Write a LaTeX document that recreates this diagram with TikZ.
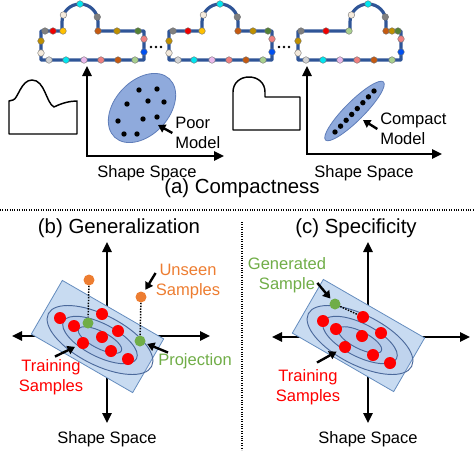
\documentclass[tikz,border=0pt]{standalone}
\usepackage{fontspec}
\setmainfont{Liberation Sans}
\usetikzlibrary{arrows.meta}
\definecolor{outlineblue}{RGB}{47,85,151}
\definecolor{modelblue}{RGB}{143,170,220}
\definecolor{modeledge}{RGB}{95,125,185}
\definecolor{planefill}{RGB}{200,219,241}
\definecolor{planeedge}{RGB}{100,140,190}
\definecolor{ringblue}{RGB}{75,105,155}
\definecolor{trainred}{RGB}{255,0,0}
\definecolor{projgreen}{RGB}{112,173,71}
\definecolor{unseenorange}{RGB}{237,125,49}
\definecolor{ptgray}{RGB}{128,128,128}
\definecolor{ptred}{RGB}{240,0,0}
\definecolor{ptgold}{RGB}{255,192,0}
\definecolor{ptbeige}{RGB}{244,234,220}
\definecolor{ptcyan}{RGB}{0,230,240}
\definecolor{ptbrown}{RGB}{197,90,17}
\definecolor{ptdarkgold}{RGB}{191,144,0}
\definecolor{ptdarkgreen}{RGB}{84,130,53}
\definecolor{ptsalmon}{RGB}{240,128,128}
\definecolor{ptblue}{RGB}{0,80,240}
\definecolor{ptlightgreen}{RGB}{169,208,142}
\definecolor{ptpink}{RGB}{235,185,235}
\definecolor{ptlightgray}{RGB}{212,212,212}
\tikzset{
  shapeline/.style={outlineblue, line width=2.4pt, line join=round},
  ptdot/.style={draw=black!55, line width=0.3pt},
  sketch/.style={black, line width=1.1pt, line join=round},
  bothaxis/.style={line width=1.6pt, {Triangle[length=7.5pt,width=7pt]}-{Triangle[length=7.5pt,width=7pt]}},
  pointer/.style={line width=1.8pt, -{Triangle[length=5.5pt,width=6.5pt]}},
  lbl/.style={font=\fontsize{12.4}{15}\selectfont, inner sep=0pt, align=center},
  title/.style={font=\fontsize{15.3}{18}\selectfont, inner sep=0pt},
  reddot/.style={circle, fill=trainred, minimum size=9pt, inner sep=0pt},
  greendot/.style={circle, fill=projgreen, minimum size=8.25pt, inner sep=0pt},
  orangedot/.style={circle, fill=unseenorange, minimum size=8.25pt, inner sep=0pt},
  plane/.style={fill=planefill, draw=planeedge, line width=0.6pt},
  ring/.style={draw=ringblue, line width=0.7pt, fill=modelblue, fill opacity=0.15},
  projline/.style={densely dotted, line width=1.1pt},
}

\begin{document}
\begin{tikzpicture}[x=0.75pt,y=-0.75pt]
\useasboundingbox (0,0) rectangle (474,450);
% Shape contours along the top
\draw[shapeline] (41,60) -- (41,31) -- (62,31) -- (62,22) .. controls (62,12) and (70,4) .. (80,4) .. controls (90,4) and (98,12) .. (98,22) -- (98,31) -- (144,31) -- (144,60) -- cycle;
\draw[shapeline] (169,60) -- (169,31) -- (202,31) -- (202,22) .. controls (202,12) and (210,4) .. (220,4) .. controls (230,4) and (238,12) .. (238,22) -- (238,31) -- (272,31) -- (272,60) -- cycle;
\draw[shapeline] (298,60) -- (298,31) -- (350,31) -- (350,22) .. controls (350,12) and (358,4) .. (368,4) .. controls (378,4) and (386,12) .. (386,22) -- (386,31) -- (401,31) -- (401,60) -- cycle;
% Corresponding points
\foreach \px/\py/\pc in {45/31/ptgray, 53/31/ptred, 63/31/ptgold, 63.4/15/ptbeige, 80/4/ptcyan, 97.3/17/ptgray, 98/31/ptbrown, 117/31/ptdarkgold, 138/31/ptdarkgreen, 144/39/ptsalmon, 144/52/ptblue, 135/60/ptlightgreen, 118/60/ptbrown, 101/60/ptsalmon, 84/60/ptpink, 66/60/ptcyan, 49/60/ptlightgray, 41/53/ptbeige, 41/41/ptdarkgold}
  \filldraw[fill=\pc, ptdot] (\px,\py) circle (3.3);
\foreach \px/\py/\pc in {173/31/ptgray, 188/31/ptred, 202/31/ptgold, 203.4/15/ptbeige, 220/4/ptcyan, 237.3/17/ptgray, 238/31/ptbrown, 253/31/ptdarkgold, 268/31/ptdarkgreen, 272/39/ptsalmon, 272/52/ptblue, 263/60/ptlightgreen, 246/60/ptbrown, 229/60/ptsalmon, 212/60/ptpink, 194/60/ptcyan, 178/60/ptlightgray, 169/53/ptbeige, 169/41/ptdarkgold}
  \filldraw[fill=\pc, ptdot] (\px,\py) circle (3.3);
\foreach \px/\py/\pc in {301/31/ptgray, 326/31/ptred, 349/31/ptlightgreen, 351.4/15/ptbeige, 368/4/ptcyan, 385.3/17/ptgray, 386/31/ptbrown, 392/31/ptdarkgold, 398/31/ptdarkgreen, 401/39/ptsalmon, 401/52/ptblue, 392/60/ptlightgreen, 374/60/ptbrown, 357/60/ptsalmon, 340/60/ptpink, 323/60/ptcyan, 306/60/ptlightgray, 298/53/ptbeige, 298/41/ptdarkgold}
  \filldraw[fill=\pc, ptdot] (\px,\py) circle (3.3);
% Ellipsis marks between contours
\foreach \px in {151,156,161,279,284,289}
  \fill (\px,47) circle (1.3);

% (a) Compactness: poor model
\draw[sketch] (9,134) -- (9,101) -- (13,100) .. controls (18,99) and (21,80) .. (32,80) .. controls (45,80) and (46,103) .. (54,107) .. controls (62,103) and (70,101) .. (77,101) -- (77,134) -- cycle;
\draw[bothaxis] (87,66) -- (87,156) -- (224,156);
\draw[fill=modelblue, draw=modeledge, line width=0.6pt, shift={(142,108)}, rotate=47] (0,0) ellipse [x radius=40, y radius=27];
\foreach \px/\py in {139/90, 157/89, 127/104, 148/101, 164/102, 118/121, 143/119, 157/117, 124/134, 137/134}
  \fill (\px,\py) circle (2.7);
\node[lbl, anchor=west, align=left] (poorlbl) at (175,133) {Poor\\Model};
\coordinate (poortip) at (158,125);
\draw[pointer] ([xshift=-2pt]poorlbl.west) -- (poortip);
\node[lbl, anchor=base] (spacea1) at (147,177) {Shape Space};

% (a) Compactness: compact model
\draw[sketch] (233,130) -- (233,92) .. controls (233,83) and (240,77) .. (249,77) .. controls (258,77) and (265,83) .. (265,92) -- (265,97) -- (300,97) -- (300,130) -- cycle;
\draw[bothaxis] (307,66) -- (307,154) -- (442,154);
\draw[fill=modelblue, draw=modeledge, line width=0.6pt, shift={(354.5,111)}, rotate=45] (0,0) ellipse [x radius=41, y radius=9.5];
\foreach \i in {0,...,7}
  \fill ({335+\i*39/7},{132-\i*41/7}) circle (2.7);
\node[lbl, anchor=west, align=left] (compactlbl) at (380,129) {Compact\\Model};
\coordinate (compacttip) at (363,120);
\draw[pointer] ([xshift=-2pt]compactlbl.west) -- (compacttip);
\node[lbl, anchor=base] (spacea2) at (364,177) {Shape Space};
\node[title, anchor=base] (titlea) at (242,193) {(a) Compactness};

% Separators
\draw[densely dotted, line width=0.8pt] (0,210) -- (474,210);
\draw[densely dotted, line width=0.8pt] (242,222) -- (242,450);

% (b) Generalization
\node[title, anchor=base] (titleb) at (119,233) {(b) Generalization};
\draw[bothaxis] (107,242) -- (107,423);
\draw[bothaxis] (12,336) -- (210,336);
\begin{scope}[shift={(97.5,336.5)},rotate=-30]
\draw[plane] (-58.5,-31) rectangle (58.5,31);
\end{scope}
\begin{scope}[shift={(100,340)},rotate=-27]
\draw[ring] (0,0) ellipse [x radius=58, y radius=25];
\draw[ring] (0,0) ellipse [x radius=41, y radius=16.5];
\draw[ring] (0,0) ellipse [x radius=24, y radius=8.5];
\end{scope}
\node[reddot] (tb1) at (60,318) {};
\node[reddot] (tb2) at (74,326) {};
\node[reddot] (tb3) at (102,314) {};
\node[reddot] (tb4) at (118,331) {};
\node[reddot] (tb5) at (102,337) {};
\node[reddot] (tb6) at (83,343) {};
\node[reddot] (tb7) at (111,351) {};
\node[reddot] (tb8) at (128,359) {};
\node[greendot] (gb1) at (88,323) {};
\node[greendot] (gb2) at (140,341) {};
\node[orangedot] (ub1) at (89,280) {};
\node[orangedot] (ub2) at (141,297) {};
\draw[projline] (ub1) -- (gb1);
\draw[projline] (ub2) -- (gb2);
\node[lbl, text=unseenorange] (unseenlbl) at (188,282) {Unseen\\Samples};
\draw[pointer, shorten >=2pt] ([yshift=6.75pt]unseenlbl.west) -- (ub2);
\node[lbl, text=projgreen, anchor=west] (projlbl) at (158,361.5) {Projection};
\draw[pointer, shorten >=1.5pt] ([xshift=7.5pt,yshift=0.75pt]projlbl.north west) -- (gb2);
\node[lbl, text=trainred] (trainblbl) at (51,377.5) {Training\\Samples};
\draw[pointer, shorten >=2pt] ([xshift=3pt,yshift=2.25pt]trainblbl.north) -- (tb6);
\node[lbl, anchor=base] (spaceb) at (107,443) {Shape Space};

% (c) Specificity
\node[title, anchor=base] (titlec) at (356,233) {(c) Specificity};
\draw[bothaxis] (368,242) -- (368,423);
\draw[bothaxis] (272,337) -- (470,337);
\begin{scope}[shift={(358.5,335.5)},rotate=-30]
\draw[plane] (-58.5,-31) rectangle (58.5,31);
\end{scope}
\begin{scope}[shift={(360,340)},rotate=-27]
\draw[ring] (0,0) ellipse [x radius=58, y radius=25];
\draw[ring] (0,0) ellipse [x radius=41, y radius=16.5];
\draw[ring] (0,0) ellipse [x radius=24, y radius=8.5];
\end{scope}
\node[reddot] (tc1) at (323,321) {};
\node[reddot] (tc2) at (336,329) {};
\node[reddot] (tc3) at (363,317) {};
\node[reddot] (tc4) at (381,333) {};
\node[reddot] (tc5) at (362,336) {};
\node[reddot] (tc6) at (345,347) {};
\node[reddot] (tc7) at (373,355) {};
\node[reddot] (tc8) at (390,363) {};
\node[greendot] (gc1) at (335,304) {};
\draw[projline] (gc1) -- (tc3);
\node[lbl, text=projgreen] (genlbl) at (287,275.5) {Generated\\Sample};
\draw[pointer, shorten >=1pt] ([xshift=-6.75pt,yshift=-5.6pt]genlbl.east) -- (gc1);
\node[lbl, text=trainred] (trainclbl) at (308,387.5) {Training\\Samples};
\draw[pointer, shorten >=2.5pt] ([xshift=6.75pt,yshift=5.25pt]trainclbl.north) -- (tc6);
\node[lbl, anchor=base] (spacec) at (368,443) {Shape Space};
\end{tikzpicture}
\end{document}
